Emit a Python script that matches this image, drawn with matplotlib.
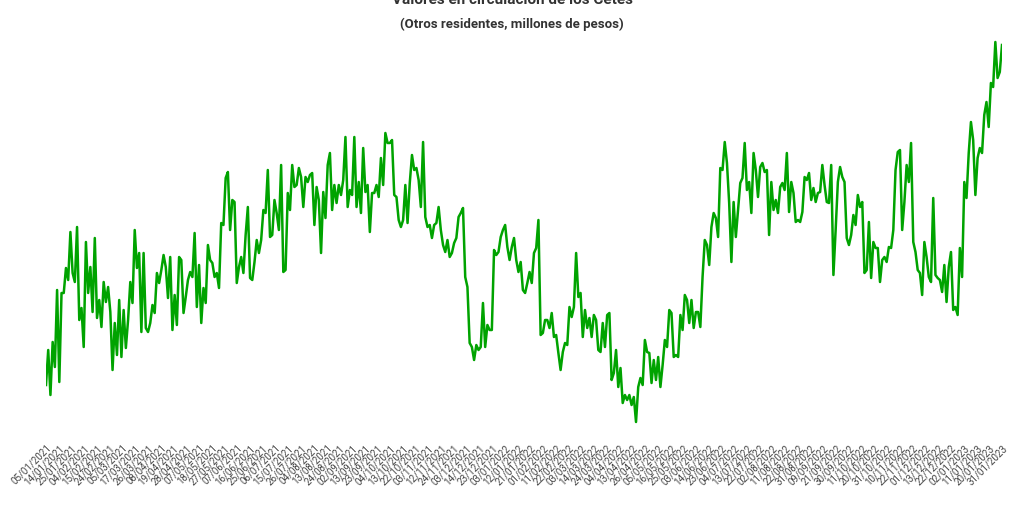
import matplotlib
matplotlib.use("Agg")
import matplotlib.pyplot as plt
import numpy as np
import pandas as pd

titulo = "Valores en circulación de los Cetes"
subtitulo = "(Otros residentes, millones de pesos)"
fecha_inicio = "2021-01-05"
fecha_fin = "2023-01-31"
feriados = ["2021-02-01", "2021-03-15", "2021-04-01", "2021-04-02", "2021-09-16", "2021-11-02",
            "2021-11-15", "2022-02-07", "2022-03-21", "2022-04-14", "2022-04-15", "2022-09-16",
            "2022-11-02", "2022-11-21", "2022-12-12"]

valores = [
65,100,55,108,83,160,68,157,157,182,170,218,177,168,223,130,142,103,208,157,183,138,212,132,150,123,168,148,163,138,
80,127,95,150,93,140,102,130,168,147,220,182,197,118,197,122,118,127,145,137,177,167,180,195,183,152,193,120,155,125,
193,190,137,153,170,178,173,217,143,185,127,162,147,205,190,187,173,177,162,227,225,272,278,220,250,248,167,183,193,177,
215,243,172,170,188,210,197,210,240,237,280,213,215,250,237,220,285,178,180,257,240,285,263,265,282,273,243,273,268,275,
277,225,263,250,197,258,232,285,297,240,265,247,265,255,270,313,243,
260,255,313,243,268,237,302,258,265,218,257,257,265,253,292,265,317,307,307,310,255,253,230,223,230,265,227,267,295,280,
282,270,243,308,233,223,225,212,225,227,243,220,205,198,210,193,197,207,212,233,237,242,173,163,107,103,90,105,100,103,
147,103,125,120,120,200,195,198,213,220,225,203,190,203,212,190,178,188,160,157,167,178,167,197,202,230,115,117,130,130,
122,137,113,115,97,80,98,107,105,143,133,143,197,153,157,113,140,122,132,113,135,130,100,98,127,103,135,137,70,77,
100,63,82,47,55,50,55,45,53,28,63,72,65,110,98,97,67,90,70,93,63,85,110,103,140,137,93,95,93,135,120,155,150,127,150,122,138,
138,123,173,210,205,185,223,237,232,213,282,280,308,287,247,188,248,213,240,267,272,307,260,268,237,297,280,253,283,287,
278,280,215,268,240,250,237,263,267,260,297,238,268,257,228,230,228,238,273,270,277,250,262,248,257,258,285,265,248,247,
285,175,220,268,283,273,268,212,205,215,235,225,255,243,248,177,180,228,172,208,202,202,168,190,193,188,203,202,220,280,
298,300,220,248,285,268,307,208,198,180,177,155,208,193,173,168,252,175,172,170,158,185,148,183,198,140,143,135,202,173,
268,252,297,328,310,255,292,302,297,335,348,323,367,363,408,372,378,405,
]

plt.rcParams['font.family'] = ['Roboto', 'DejaVu Sans']
fechas = pd.bdate_range(fecha_inicio, fecha_fin)
fechas = fechas[~fechas.isin(pd.to_datetime(feriados))]
nd = len(fechas)
x = np.linspace(0, nd - 1, len(valores))

fig = plt.figure(figsize=(10.24, 5.12), dpi=100)
ax = fig.add_axes([46/1024, 72/512, 956/1024, 404/512])
ax.plot(x, valores, color="#00a300", lw=1.8)
ax.set_xlim(0, nd - 1)
ax.set_ylim(10, 414)
for s in ax.spines.values():
    s.set_visible(False)
ax.set_yticks([])
ticks = list(range(nd - 1, -1, -7))[::-1]
ax.set_xticks(ticks)
ax.set_xticklabels([fechas[i].strftime("%d/%m/%Y") for i in ticks], rotation=45,
                   ha="right", rotation_mode="anchor", fontsize=7, color="#444444")
ax.tick_params(axis="x", length=0, pad=2)

fig.text(0.5, 1.0, titulo, ha="center", va="center", fontsize=11, fontweight="bold", color="#333333")
fig.text(0.5, 1 - 24/512, subtitulo, ha="center", va="center", fontsize=9.5, fontweight="bold", color="#333333")
fig.savefig("out.png", dpi=100)
